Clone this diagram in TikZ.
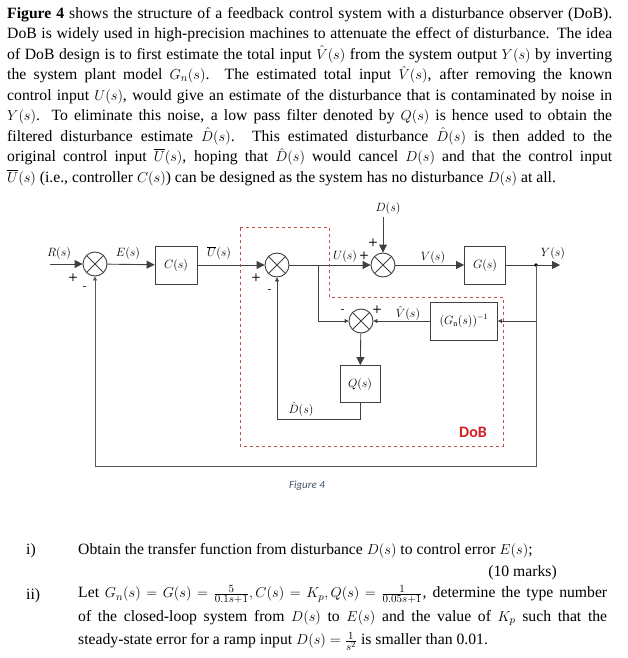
\documentclass[tikz,border=0pt]{standalone}
\usepackage{amsmath,amssymb}
\usepackage{fontspec}
\setmainfont{Liberation Serif}
\newfontfamily\calib{Carlito}
\usepackage{tikz}
\usetikzlibrary{arrows.meta}
\usetikzlibrary{positioning}

\definecolor{dobred}{RGB}{192,80,77}
\definecolor{dobtext}{RGB}{214,32,40}
\definecolor{capgray}{RGB}{68,84,106}

\tikzset{
  wire/.style={draw=black!75, line width=0.9pt},
  bigarr/.style={wire, -{Triangle[length=8pt,width=8pt]}},
  smallarr/.style={wire, -{Triangle[length=4pt,width=4pt]}},
  blk/.style={draw=black!75, line width=0.9pt, minimum height=38pt, inner sep=2pt, font=\fontsize{12}{14}\selectfont},
  sumnode/.style={circle, draw=black!75, line width=0.9pt, minimum size=24pt, inner sep=0pt},
  lbl/.style={font=\fontsize{12}{14}\selectfont, inner sep=0pt},
  sgn/.style={font=\sffamily\bfseries\fontsize{11}{12}\selectfont, inner sep=0pt},
  dobline/.style={draw=dobred, dashed, line width=0.8pt},
  bodytext/.style={inner sep=0pt, font=\fontsize{15.7}{20.5}\selectfont}
}

\begin{document}
\begin{tikzpicture}[x=1pt,y=-1pt]
	\useasboundingbox (0,0) rectangle (627,658);
	
	% text above the figure
	\node[bodytext, anchor=north west, text width=605pt, align=justify] (intro) at (7,7) {\noindent
		\textbf{Figure 4} shows the structure of a feedback control system with a disturbance observer (DoB).\linebreak
		DoB is widely used in high-precision machines to attenuate the effect of disturbance. The idea\linebreak
		of DoB design is to first estimate the total input $\hat{V}(s)$ from the system output $Y(s)$ by inverting\linebreak
		the system plant model $G_n(s)$. The estimated total input $\hat{V}(s)$, after removing the known\linebreak
		control input $U(s)$, would give an estimate of the disturbance that is contaminated by noise in\linebreak
		$Y(s)$. To eliminate this noise, a low pass filter denoted by $Q(s)$ is hence used to obtain the\linebreak
		filtered disturbance estimate $\hat{D}(s)$. This estimated disturbance $\hat{D}(s)$ is then added to the\linebreak
		original control input $\overline{U}(s)$, hoping that $\hat{D}(s)$ would cancel $D(s)$ and that the control input\linebreak
		$\overline{U}(s)$ (i.e., controller $C(s)$) can be designed as the system has no disturbance $D(s)$ at all.};
	
	% blocks and summing points
	\node[sumnode] (sumR) at (95,264) {};
	\node[blk, minimum width=42pt] (ctrl) at (176,265) {$C(s)$};
	\node[sumnode] (sumU) at (277,265) {};
	\node[sumnode] (sumD) at (383,265) {};
	\node[blk, minimum width=41pt] (plant) at (485,265) {$G(s)$};
	\node[sumnode] (sumV) at (361,321) {};
	\node[blk, minimum width=67pt] (invG) at (464,321) {$(G_{\mathrm{n}}(s))^{-1}$};
	\node[blk, minimum width=40pt, minimum height=37pt] (filt) at (360,384) {$Q(s)$};
	\foreach \n in {sumR,sumU,sumD,sumV}
	{
		\draw[black!75, line width=0.9pt] (\n.45) -- (\n.225) (\n.135) -- (\n.315);
	}
	
	\coordinate (rin) at (50,264);
	\coordinate (din) at (383,217);
	\coordinate (utap) at (318,265);
	\coordinate (ytap) at (536,265);
	\coordinate (yout) at (560,265);
	\coordinate (dcorner) at (277,419);
	\coordinate (fbcorner) at (95,466);
	
	% forward path
	\draw[bigarr] (rin) -- (sumR);
	\draw[bigarr] (sumR) -- (ctrl);
	\draw[bigarr] (ctrl) -- (sumU);
	\draw[bigarr] (sumU) -- (sumD);
	\draw[bigarr] (din) -- (sumD);
	\draw[bigarr] (sumD) -- (plant);
	\draw[bigarr] (plant) -- (yout);
	\fill[black] (ytap) circle (1.8pt);
	
	% observer
	\draw[smallarr] (utap) |- (sumV);
	\draw[smallarr] (ytap) |- (invG);
	\draw[smallarr] (invG) -- (sumV);
	\draw[bigarr] (sumV) -- (filt);
	\draw[smallarr] (filt.south) |- (dcorner) -- (sumU);
	
	% feedback
	\draw[smallarr, draw=black!65] (ytap) |- (fbcorner) -- (sumR);
	
	% DoB frame
	\draw[dobline] (240,227) -- (329,227) -- (329,297) -- (503,297) -- (503,446) -- (240,446) -- cycle;
	\node[font=\calib\bfseries\fontsize{16}{18}\selectfont, text=dobtext, inner sep=0pt] (doblbl) at (473,432) {DoB};
	
	% signal labels
	\node[lbl] (rlbl) at (59,253) {$R(s)$};
	\node[lbl] (elbl) at (128,253) {$E(s)$};
	\node[lbl] (ubarlbl) at (219,253) {$\overline{U}(s)$};
	\node[lbl] (ulbl) at (345,256) {$U(s)$};
	\node[lbl] (dlbl) at (388,208) {$D(s)$};
	\node[lbl] (vlbl) at (433,257) {$V(s)$};
	\node[lbl] (ylbl) at (553,253) {$Y(s)$};
	\node[lbl] (vhatlbl) at (408,313) {$\hat{V}(s)$};
	\node[lbl] (dhatlbl) at (301,409) {$\hat{D}(s)$};
	
	% signs
	\node[sgn] at (73,278) {+};
	\node[sgn] at (85,288) {-};
	\node[sgn] at (256,278) {+};
	\node[sgn] at (270,291) {-};
	\node[sgn] at (364,256) {+};
	\node[sgn] at (373,243) {+};
	\node[sgn] at (343,311) {-};
	\node[sgn] at (377,310) {+};
	
	\node[font=\calib\itshape\fontsize{11}{13}\selectfont, text=capgray, inner sep=0pt] (cap) at (307,486) {Figure 4};
	
	% questions
	\node[bodytext, anchor=base west] (qi) at (26,554) {i)};
	\node[bodytext, anchor=base west] (qitext) at (78,554)
		{Obtain the transfer function from disturbance $D(s)$ to control error $E(s)$;};
	\node[bodytext, anchor=base east] (marks) at (557,576) {(10 marks)};
	\node[bodytext, anchor=base west] (qii) at (26,599) {ii)};
	\node[bodytext, anchor=north west, text width=529pt, align=justify,
	      font=\fontsize{15.7}{23.5}\selectfont] (qiitext) at (78,585) {\noindent\thickmuskip=5mu plus 2mu
		Let $G_n(s)=G(s)=\frac{5}{0.1s+1}, C(s)=K_p, Q(s)=\frac{1}{0.05s+1}$, determine the type number\linebreak
		of the closed-loop system from $D(s)$ to $E(s)$ and the value of $K_p$ such that the\linebreak
		steady-state error for a ramp input $D(s)=\frac{1}{s^2}$ is smaller than 0.01.};
\end{tikzpicture}
\end{document}
